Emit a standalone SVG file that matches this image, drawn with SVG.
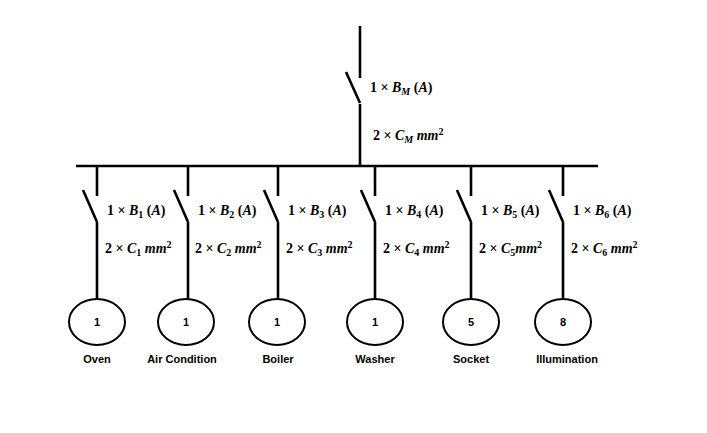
<svg xmlns="http://www.w3.org/2000/svg" width="707" height="433" viewBox="0 0 707 433">
<style>
.w{stroke:#000;stroke-width:2.6;fill:none}
.c{stroke:#000;stroke-width:2;fill:#fff}
.m{font-family:"Liberation Serif",serif;font-size:14px;font-weight:bold}
.i{font-style:italic}
.s{font-size:10px}
.n{font-family:"Liberation Sans",sans-serif;font-size:11px;font-weight:bold;text-anchor:middle}
</style>
<rect width="707" height="433" fill="#fff"/>
<g id="connectors">
<path class="w" d="M360 26V78M346 72L360 103M360 104V166M76 166H598"/>
</g>
<g id="main"><text class="m" x="370" y="92">1 × <tspan class="i">B</tspan><tspan class="i s" dy="3">M</tspan><tspan dy="-3">  (</tspan><tspan class="i">A</tspan>)</text>
<text class="m" x="373" y="140">2 × <tspan class="i">C</tspan><tspan class="i s" dy="3">M</tspan><tspan class="i" dy="-3">  mm</tspan><tspan class="s" dy="-5">2</tspan></text></g>
<g id="b1" transform="translate(97,0)"><path class="w" d="M0 166V196M-14 190L0 222M0 222V299"/><ellipse class="c" cx="0" cy="322" rx="28" ry="23"/><text class="n" y="326">1</text><text class="n" y="363">Oven</text>
<text class="m" x="10" y="215">1 × <tspan class="i">B</tspan><tspan class="s" dy="3">1</tspan><tspan dy="-3"> (</tspan><tspan class="i">A</tspan>)</text><text class="m" x="8" y="253">2 × <tspan class="i">C</tspan><tspan class="s" dy="3">1</tspan><tspan class="i" dy="-3"> mm</tspan><tspan class="s" dy="-5">2</tspan></text></g>
<g id="b2" transform="translate(188,0)"><path class="w" d="M0 166V196M-14 190L0 222M0 222V299"/><ellipse class="c" cx="-2" cy="322" rx="28" ry="23"/><text class="n" x="-2" y="326">1</text><text class="n" x="-6" y="363">Air Condition</text>
<text class="m" x="10" y="215">1 × <tspan class="i">B</tspan><tspan class="s" dy="3">2</tspan><tspan dy="-3"> (</tspan><tspan class="i">A</tspan>)</text><text class="m" x="7" y="253">2 × <tspan class="i">C</tspan><tspan class="s" dy="3">2</tspan><tspan class="i" dy="-3"> mm</tspan><tspan class="s" dy="-5">2</tspan></text></g>
<g id="b3" transform="translate(278,0)"><path class="w" d="M0 166V196M-14 190L0 222M0 222V299"/><ellipse class="c" cx="-1" cy="322" rx="28" ry="23"/><text class="n" x="-1" y="326">1</text><text class="n" y="363">Boiler</text>
<text class="m" x="10" y="215">1 × <tspan class="i">B</tspan><tspan class="s" dy="3">3</tspan><tspan dy="-3"> (</tspan><tspan class="i">A</tspan>)</text><text class="m" x="8" y="253">2 × <tspan class="i">C</tspan><tspan class="s" dy="3">3</tspan><tspan class="i" dy="-3"> mm</tspan><tspan class="s" dy="-5">2</tspan></text></g>
<g id="b4" transform="translate(375,0)"><path class="w" d="M0 166V196M-14 190L0 222M0 222V299"/><ellipse class="c" cx="0" cy="322" rx="28" ry="23"/><text class="n" y="326">1</text><text class="n" y="363">Washer</text>
<text class="m" x="10" y="215">1 × <tspan class="i">B</tspan><tspan class="s" dy="3">4</tspan><tspan dy="-3"> (</tspan><tspan class="i">A</tspan>)</text><text class="m" x="8" y="253">2 × <tspan class="i">C</tspan><tspan class="s" dy="3">4</tspan><tspan class="i" dy="-3"> mm</tspan><tspan class="s" dy="-5">2</tspan></text></g>
<g id="b5" transform="translate(471,0)"><path class="w" d="M0 166V196M-14 190L0 222M0 222V299"/><ellipse class="c" cx="0" cy="322" rx="28" ry="23"/><text class="n" y="326">5</text><text class="n" y="363">Socket</text>
<text class="m" x="10" y="215">1 × <tspan class="i">B</tspan><tspan class="s" dy="3">5</tspan><tspan dy="-3"> (</tspan><tspan class="i">A</tspan>)</text><text class="m" x="8" y="253">2 × <tspan class="i">C</tspan><tspan class="s" dy="3">5</tspan><tspan class="i" dy="-3">mm</tspan><tspan class="s" dy="-5">2</tspan></text></g>
<g id="b6" transform="translate(563,0)"><path class="w" d="M0 166V196M-14 190L0 222M0 222V299"/><ellipse class="c" cx="0" cy="322" rx="28" ry="23"/><text class="n" y="326">8</text><text class="n" x="4" y="363">Illumination</text>
<text class="m" x="10" y="215">1 × <tspan class="i">B</tspan><tspan class="s" dy="3">6</tspan><tspan dy="-3"> (</tspan><tspan class="i">A</tspan>)</text><text class="m" x="8" y="253">2 × <tspan class="i">C</tspan><tspan class="s" dy="3">6</tspan><tspan class="i" dy="-3"> mm</tspan><tspan class="s" dy="-5">2</tspan></text></g>
</svg>
